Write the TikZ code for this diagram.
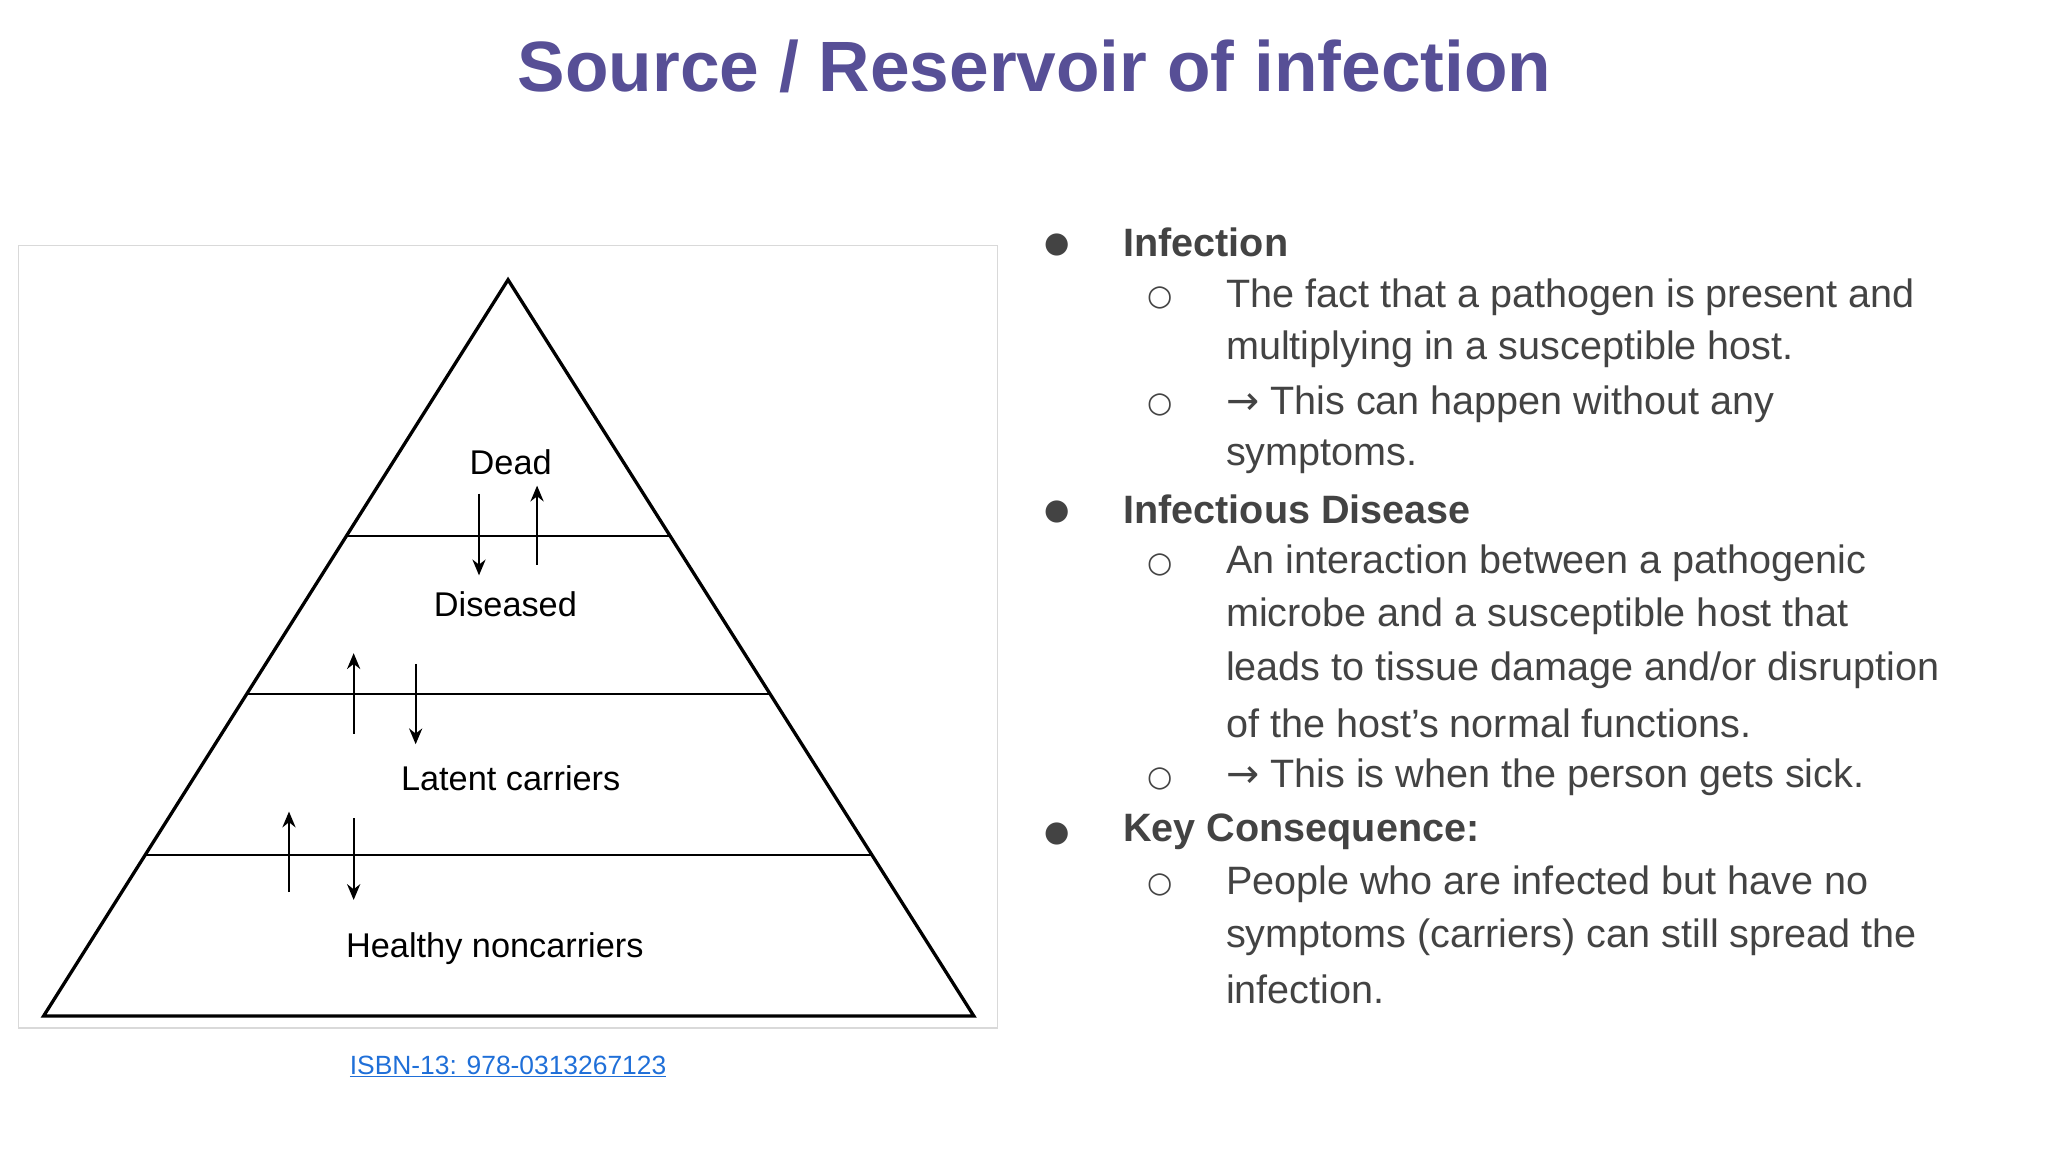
\documentclass[tikz,border=0pt]{standalone}
\usepackage{fontspec}
\setmainfont{Liberation Sans}
\newfontfamily\symf{DejaVu Sans}
\usetikzlibrary{arrows.meta}
\definecolor{ttl}{HTML}{574F96}
\definecolor{txt}{HTML}{434343}
\definecolor{lnk}{HTML}{1F6FD8}
\begin{document}
\begin{tikzpicture}[x=1pt,y=-1pt,
  lbl/.style={font=\fontsize{26}{30}\selectfont, text=black, inner sep=0pt},
  ln/.style={anchor=west, font=\fontsize{30}{36}\selectfont, text=txt, inner sep=0pt},
  hd/.style={ln, font=\fontsize{30}{36}\selectfont\bfseries},
  bul/.style={anchor=center, font=\symf\fontsize{22}{26}\selectfont, text=txt, inner sep=0pt},
  arr/.style={line width=1.5pt, -{Stealth[length=12pt,width=10pt]}}]
\useasboundingbox (0,0) rectangle (1552,873);
\node[font=\fontsize{54}{60}\selectfont\bfseries, text=ttl] (title) at (784,50) {Source / Reservoir of infection};
\draw[draw=black!15, line width=1pt] (14,186) rectangle (756,779);
\coordinate (apex) at (385,212);
\coordinate (bl) at (33,770);
\coordinate (br) at (738,770);
\draw[line width=2.5pt, line join=miter] (apex) -- (bl) -- (br) -- cycle;
\draw[line width=1.5pt] (263,406) -- (508,406);
\draw[line width=1.5pt] (188,526) -- (583,526);
\draw[line width=1.5pt] (110,648) -- (661,648);
\node[lbl] (dead) at (387,350) {Dead};
\node[lbl] (dis) at (383,458) {Diseased};
\node[lbl] (lat) at (387,590) {Latent carriers};
\node[lbl] (hea) at (375,719) {Healthy noncarriers};
\coordinate (a1) at (363,374); \coordinate (a2) at (363,436);
\coordinate (b1) at (407,428); \coordinate (b2) at (407,368);
\coordinate (c1) at (268,556); \coordinate (c2) at (268,495);
\coordinate (d1) at (315,503); \coordinate (d2) at (315,564);
\coordinate (e1) at (219,676); \coordinate (e2) at (219,615);
\coordinate (f1) at (268,620); \coordinate (f2) at (268,682);
\draw[arr] (a1) -- (a2); \draw[arr] (b1) -- (b2);
\draw[arr] (c1) -- (c2); \draw[arr] (d1) -- (d2);
\draw[arr] (e1) -- (e2); \draw[arr] (f1) -- (f2);
\node[font=\fontsize{20}{24}\selectfont, text=lnk, inner sep=0pt] (isbn) at (385,808) {\underline{ISBN-13: 978-0313267123}};
% bullets
\node[bul] (b1s) at (801,186) {●}; \node[hd] (l1) at (851,184) {Infection};
\node[bul] (b2s) at (879,226) {○}; \node[ln] (l2) at (929,225) {The fact that a pathogen is present and};
\node[ln] (l3) at (929,265) {multiplying in a susceptible host.};
\node[bul] (b3s) at (879,307) {○}; \node[ln] (l4) at (929,306) {{\symf →} This can happen without any};
\node[ln] (l5) at (929,346) {symptoms.};
\node[bul] (b4s) at (801,388) {●}; \node[hd] (l6) at (851,386) {Infectious Disease};
\node[bul] (b5s) at (879,428) {○}; \node[ln] (l7) at (929,427) {An interaction between a pathogenic};
\node[ln] (l8) at (929,467) {microbe and a susceptible host that};
\node[ln] (l9) at (929,508) {leads to tissue damage and/or disruption};
\node[ln] (l10) at (929,548) {of the host's normal functions.};
\node[bul] (b6s) at (879,590) {○}; \node[ln] (l11) at (929,589) {{\symf →} This is when the person gets sick.};
\node[bul] (b7s) at (801,632) {●}; \node[hd] (l12) at (851,630) {Key Consequence:};
\node[bul] (b8s) at (879,671) {○}; \node[ln] (l13) at (929,670) {People who are infected but have no};
\node[ln] (l14) at (929,710) {symptoms (carriers) can still spread the};
\node[ln] (l15) at (929,750) {infection.};
\end{tikzpicture}
\end{document}
